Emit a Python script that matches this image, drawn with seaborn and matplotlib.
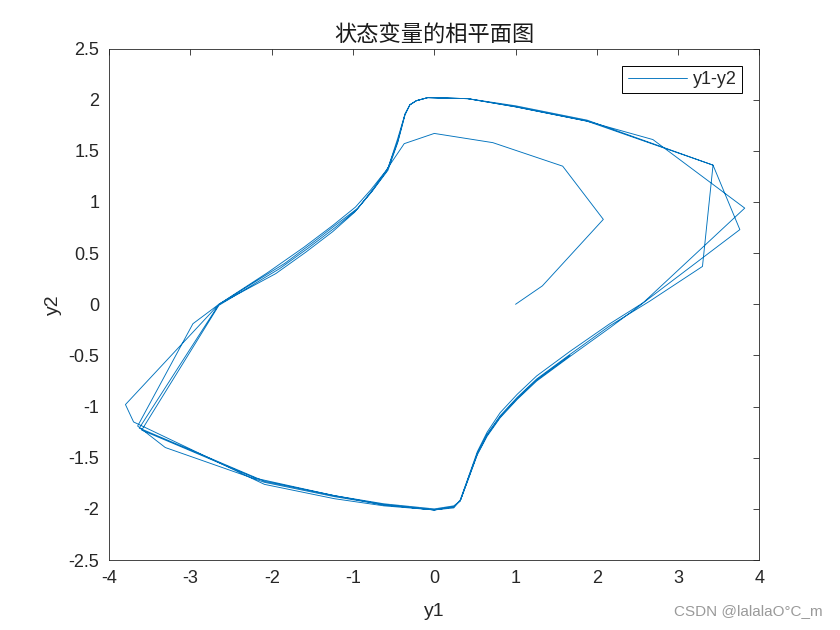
import numpy as np
import matplotlib
matplotlib.use("Agg")
import matplotlib.pyplot as plt
import seaborn as sns


# first pass, starts inside the cycle
start_y1 = [1.00, 1.33, 2.08, 1.58, 0.72, 0.00, -0.37, -0.60, -0.78, -0.97, -1.25, -1.60, -2.05, -2.65]
start_y2 = [0.00, 0.18, 0.83, 1.35, 1.58, 1.67, 1.57, 1.30, 1.12, 0.95, 0.77, 0.56, 0.31, 0.00]

# lap 1
lap1_y1 = [-2.97, -3.65, -3.31, -2.09, -1.23, -0.62, 0.00, 0.24, 0.32, 0.41, 0.53, 0.65, 0.81, 1.02,
           1.26, 1.67, 2.16, 2.65, 3.30, 3.43, 1.88, 1.00, 0.41, -0.08, -0.22, -0.30, -0.36, -0.45, -0.57,
           -0.74, -0.94, -1.19, -1.50, -1.84, -2.65]
lap1_y2 = [-0.19, -1.19, -1.40, -1.74, -1.88, -1.96, -2.01, -1.98, -1.92, -1.72, -1.46, -1.27, -1.09,
           -0.91, -0.73, -0.49, -0.21, 0.03, 0.37, 1.36, 1.79, 1.93, 2.01, 2.02, 1.99, 1.95, 1.86, 1.62, 1.33,
           1.14, 0.94, 0.79, 0.60, 0.40, 0.00]

# lap 2
lap2_y1 = [-3.80, -3.70, -2.09, -1.23, -0.62, 0.00, 0.24, 0.32, 0.41, 0.53, 0.65, 0.81, 1.02, 1.26,
           1.67, 2.16, 2.58, 3.76, 3.43, 1.88, 1.00, 0.41, -0.08, -0.22, -0.30, -0.36, -0.45, -0.57, -0.76,
           -0.96, -1.22, -1.55, -1.90, -2.65]
lap2_y2 = [-0.98, -1.15, -1.76, -1.90, -1.97, -2.01, -1.99, -1.91, -1.71, -1.44, -1.25, -1.06, -0.88,
           -0.70, -0.46, -0.19, 0.02, 0.73, 1.36, 1.80, 1.94, 2.01, 2.02, 1.99, 1.95, 1.85, 1.58, 1.31, 1.11,
           0.92, 0.75, 0.55, 0.35, -0.01]

# lap 3
lap3_y1 = [-3.60, -2.20, -1.23, -0.62, 0.00, 0.24, 0.32, 0.41, 0.53, 0.65, 0.81, 1.02, 1.26, 1.67,
           2.16, 2.55, 3.82, 2.69, 1.88, 1.00, 0.41, -0.08, -0.22, -0.30, -0.36, -0.45, -0.58, -0.77,
           -0.98, -1.25, -1.58, -1.95, -2.65]
lap3_y2 = [-1.23, -1.70, -1.87, -1.95, -2.00, -1.97, -1.92, -1.73, -1.47, -1.29, -1.11, -0.93, -0.75,
           -0.51, -0.23, 0.00, 0.94, 1.61, 1.79, 1.93, 2.01, 2.02, 1.99, 1.95, 1.86, 1.59, 1.31, 1.10, 0.90,
           0.71, 0.51, 0.30, 0.00]

# last bit
lap4_y1 = [-3.63, -2.09, -1.23, -0.62, 0.00, 0.24, 0.32, 0.41, 0.53, 0.65, 0.81, 1.02, 1.26, 1.67]
lap4_y2 = [-1.21, -1.73, -1.87, -1.96, -2.01, -1.98, -1.92, -1.72, -1.46, -1.28, -1.10, -0.92, -0.74, -0.50]

x_ticks = [-4, -3, -2, -1, 0, 1, 2, 3, 4]
y_ticks = [-2.5, -2, -1.5, -1, -0.5, 0, 0.5, 1, 1.5, 2, 2.5]
tick_labels_y = ["-2.5", "-2", "-1.5", "-1", "-0.5", "0", "0.5", "1", "1.5", "2", "2.5"]

y1 = np.array(start_y1 + lap1_y1 + lap2_y1 + lap3_y1 + lap4_y1)
y2 = np.array(start_y2 + lap1_y2 + lap2_y2 + lap3_y2 + lap4_y2)

sns.set_style("white")
plt.rcParams['font.family'] = ['Liberation Sans', 'Noto Sans CJK SC', 'DejaVu Sans']
plt.rcParams['axes.unicode_minus'] = False

fig = plt.figure(figsize=(8.4, 6.3), dpi=100)
ax = fig.add_axes([0.13, 0.111, 0.774, 0.812])

sns.lineplot(x=y1, y=y2, sort=False, estimator=None, color='#0072BD',
             linewidth=0.65, label='y1-y2', ax=ax)

ax.set_xlim(-4, 4)
ax.set_ylim(-2.5, 2.5)
ax.set_xticks(x_ticks)
ax.set_xticklabels([str(t) for t in x_ticks])
ax.set_yticks(y_ticks)
ax.set_yticklabels(tick_labels_y)
ax.tick_params(direction='in', length=4, width=0.6, top=True, right=True,
               labelsize=13, colors='#262626', pad=7)
for s in ax.spines.values():
    s.set_color('#262626')
    s.set_linewidth(0.6)

ax.set_xlabel('y1', fontsize=14, color='#262626', labelpad=12)
ax.set_ylabel('y2', fontsize=14, color='#262626', labelpad=5)
ax.set_title('状态变量的相平面图', fontsize=16, color='#1a1a1a', pad=5,
             family=['Noto Sans CJK SC', 'DejaVu Sans'])

leg = ax.legend(loc='upper right', handlelength=3.3, fontsize=13, fancybox=False,
                framealpha=1, edgecolor='black', borderaxespad=0.95, borderpad=0.3,
                handletextpad=0.3)
leg.get_frame().set_linewidth(0.7)

fig.text(0.979, 0.030, 'CSDN @lalalaO°C_m', ha='right', va='center', fontsize=11, color='#9a9a9a')

fig.savefig('out.png', dpi=100)
